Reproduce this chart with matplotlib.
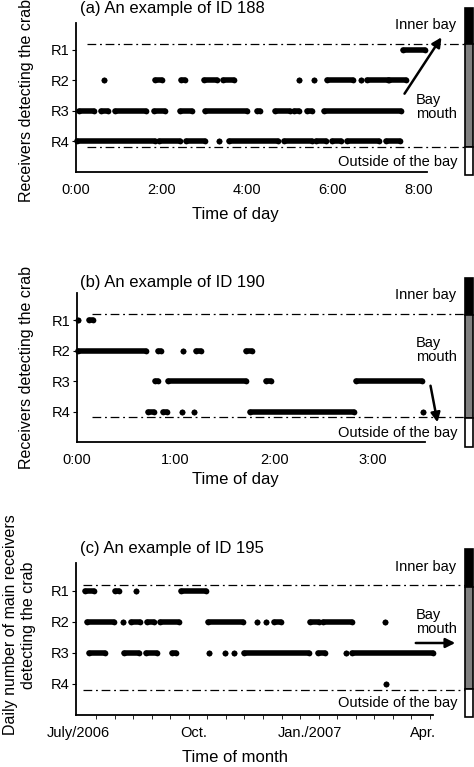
import numpy as np
import matplotlib
matplotlib.use("Agg")
import matplotlib.pyplot as plt
from matplotlib.patches import Rectangle

plt.rcParams['font.family'] = ['Liberation Sans', 'DejaVu Sans']

W, H = 474, 767

# ---------- DATA: detection runs (start, end) per receiver ----------
# (a) ID 188, hours
a_runs = {
    4: [(7.63, 8.15)],
    3: [(0.65, 0.65), (1.84, 2.0), (2.46, 2.54), (2.99, 3.29), (3.43, 3.68), (5.2, 5.2),
        (5.56, 5.56), (5.87, 6.46), (6.65, 6.65), (6.8, 7.28), (7.32, 7.72)],
    2: [(0.08, 0.43), (0.59, 0.74), (0.9, 1.64), (1.82, 2.07), (2.43, 2.7), (3.01, 3.99),
        (4.23, 4.3), (4.66, 5.0), (5.09, 5.2), (5.4, 5.52), (5.79, 7.6)],
    1: [(0.02, 1.84), (1.94, 2.43), (2.56, 3.01), (3.33, 3.33), (3.58, 4.73), (4.85, 5.52),
        (5.6, 5.83), (5.99, 6.18), (6.34, 7.08), (7.24, 7.57)],
}
# (b) ID 190, hours
b_runs = {
    4: [(0.01, 0.01), (0.12, 0.16)],
    3: [(0.01, 0.7), (0.82, 0.85), (1.08, 1.08), (1.21, 1.26), (1.71, 1.78)],
    2: [(0.79, 0.82), (0.92, 1.71), (1.92, 1.97), (2.83, 3.5)],
    1: [(0.72, 0.78), (0.87, 0.91), (1.07, 1.07), (1.19, 1.19), (1.75, 2.81), (3.51, 3.51)],
}
# (c) ID 195, days since 1 July 2006
c_runs = {
    4: [(5.5, 12.8), (29.5, 32.5), (46, 46), (82, 102)],
    3: [(7.5, 28.5), (36, 36), (42.5, 49.5), (54.5, 60.5), (65, 80.5), (103, 131.5),
        (142, 142), (149.5, 149.5), (155.5, 161), (184.5, 191.5), (195, 217.5), (244, 244)],
    2: [(8.5, 21.5), (37, 48.5), (54, 63), (75, 78), (104, 104), (117, 117), (124, 124),
        (132, 183.5), (191, 196.5), (213, 213), (218, 282)],
    1: [(245, 245)],
}

receiver_labels = ['R4', 'R3', 'R2', 'R1']
a_ticks = [0, 2, 4, 6, 8]
a_ticklabels = ['0:00', '2:00', '4:00', '6:00', '8:00']
b_ticks = [0, 1, 2, 3]
b_ticklabels = ['0:00', '1:00', '2:00', '3:00']
c_ticks = [0, 92, 184, 274]
c_ticklabels = ['July/2006', 'Oct.', 'Jan./2007', 'Apr.']


def fx(px):
    return px / W


def fy(py):
    return 1 - py / H


def draw_runs(ax, runs):
    for lvl, segs in runs.items():
        for s, e in segs:
            ax.plot([s, e], [lvl, lvl], color='black', lw=4,
                    solid_capstyle='round', clip_on=False)
            ax.scatter([s, e], [lvl, lvl], s=17, color='black', lw=0,
                       clip_on=False, zorder=3)


def make_panel(fig, box, runs, xlim, ytop, ticks, ticklabels, line_x0, line_x1):
    left, right, top, bottom = box
    ax = fig.add_axes([fx(left), fy(bottom), fx(right - left), (bottom - top) / H])
    draw_runs(ax, runs)
    ax.set_xlim(*xlim)
    ax.set_ylim(0, ytop)
    ax.set_yticks([1, 2, 3, 4])
    ax.set_yticklabels(receiver_labels, fontsize=10.5)
    ax.set_xticks(ticks)
    ax.set_xticklabels(ticklabels, fontsize=10.5)
    ax.tick_params(axis='x', length=0, pad=8)
    ax.tick_params(axis='y', length=3, pad=2)
    for s in ['top', 'right']:
        ax.spines[s].set_visible(False)
    for s in ['left', 'bottom']:
        ax.spines[s].set_linewidth(1.3)
    tr = ax.get_yaxis_transform()
    for yv in (4.2, 0.82):
        ax.plot([line_x0, line_x1], [yv, yv], color='black', lw=0.9,
                ls=(0, (7, 3, 1.5, 3)), transform=tr, clip_on=False)
    return ax


def side_bar(fig, top, b1, b2, bottom):
    x0, w = 465, 8
    for y0, y1, c in [(top, b1, 'black'), (b1, b2, '#808080'), (b2, bottom, 'white')]:
        fig.add_artist(Rectangle((fx(x0), fy(y1)), fx(w), (y1 - y0) / H,
                                 transform=fig.transFigure, facecolor=c,
                                 edgecolor='black', lw=1.2))


def region_text(fig, y_inner, y_mouth, y_out):
    fig.text(fx(456), fy(y_inner), 'Inner bay', ha='right', va='center', fontsize=10.5)
    fig.text(fx(416), fy(y_mouth), 'Bay\nmouth', ha='left', va='center', fontsize=10.5,
             linespacing=1.0)
    fig.text(fx(457), fy(y_out), 'Outside of the bay', ha='right', va='center', fontsize=10.5)


def arrow(fig, tail, head):
    fig.add_artist(plt.Annotation('', xy=(fx(head[0]), fy(head[1])), xycoords='figure fraction',
                                  xytext=(fx(tail[0]), fy(tail[1])), textcoords='figure fraction',
                                  arrowprops=dict(arrowstyle='-|>', color='black', lw=1.8,
                                                  mutation_scale=14)))


fig = plt.figure(figsize=(W / 100, H / 100), dpi=100)

# (a)
make_panel(fig, (76, 427, 23, 172), a_runs, (0, 8.2), 4.88, a_ticks, a_ticklabels, 0.03, 1.108)
side_bar(fig, 8, 44, 147, 175)
region_text(fig, 25, 107, 162)
arrow(fig, (403, 96), (443, 35))
fig.text(fx(80), fy(8), '(a) An example of ID 188', ha='left', va='center', fontsize=12)
fig.text(fx(235), fy(214), 'Time of day', ha='center', va='center', fontsize=12)
fig.text(fx(27), fy(100), 'Receivers detecting the crab', rotation=90, ha='center',
         va='center', fontsize=11.5)

# (b)
make_panel(fig, (77, 425, 293, 442), b_runs, (0, 3.53), 4.89, b_ticks, b_ticklabels, 0.043, 1.115)
side_bar(fig, 278, 315, 418, 447)
region_text(fig, 295, 350, 433)
arrow(fig, (430, 383), (438, 425))
fig.text(fx(80), fy(282), '(b) An example of ID 190', ha='left', va='center', fontsize=12)
fig.text(fx(235), fy(479), 'Time of day', ha='center', va='center', fontsize=12)
fig.text(fx(27), fy(368), 'Receivers detecting the crab', rotation=90, ha='center',
         va='center', fontsize=11.5)

# (c)
axc = make_panel(fig, (76, 433, 563, 715), c_runs, (-1.5, 282), 4.9, c_ticks, c_ticklabels,
                 0.02, 1.09)
axc.set_xticks(np.arange(0, 282, 14.7), minor=True)
axc.tick_params(axis='x', which='minor', length=3, direction='out')
side_bar(fig, 549, 587, 689, 717)
region_text(fig, 567, 622, 703)
arrow(fig, (413, 643), (458, 643))
fig.text(fx(80), fy(549), '(c) An example of ID 195', ha='left', va='center', fontsize=12)
fig.text(fx(235), fy(758), 'Time of month', ha='center', va='center', fontsize=12)
fig.text(fx(20), fy(625), 'Daily number of main receivers\ndetecting the crab', rotation=90,
         ha='center', va='center', fontsize=11.5, linespacing=1.25)

fig.savefig('out.png', dpi=100)
